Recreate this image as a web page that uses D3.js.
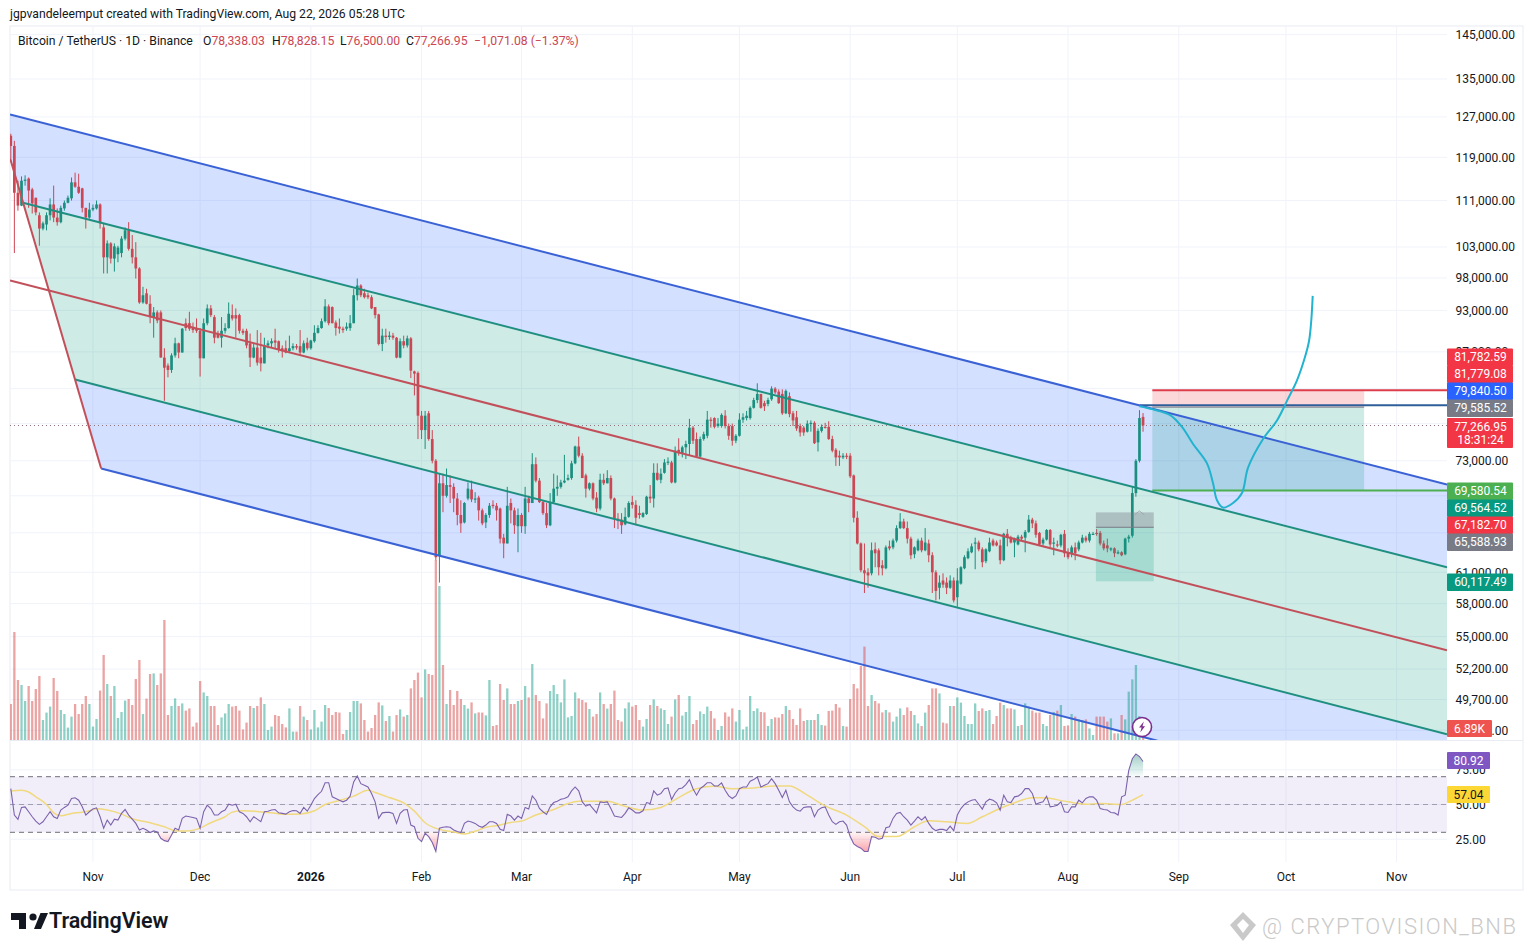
<!DOCTYPE html>
<html><head><meta charset="utf-8">
<script src="https://cdn.jsdelivr.net/npm/d3@7/dist/d3.min.js"></script>
<style>html,body{margin:0;padding:0;background:#fff;overflow:hidden}svg{display:block}text{font-family:Roboto,"Liberation Sans",sans-serif}</style>
</head><body><svg id="c" width="1534" height="951"></svg>
<script>
// Values in thousand USD, one per day starting 9 Oct 2025
const opens=[123.2,121.2,112.4,110.1,114.6,115.0,113.0,111.5,108.4,106.1,
106.8,108.4,110.3,108.0,107.2,109.6,110.6,111.4,114.3,113.5,
113.2,109.7,108.0,109.4,109.6,110.3,106.3,101.3,103.6,101.1,
101.8,102.0,104.4,105.8,102.7,101.3,99.5,94.2,95.6,94.0,
92.0,92.7,92.7,86.2,85.1,84.5,86.5,88.2,86.9,91.1,
91.1,90.4,90.4,90.0,86.1,91.1,93.3,92.0,89.6,89.0,
90.0,90.4,92.3,92.3,92.3,90.0,90.0,88.2,86.2,87.6,
86.2,85.4,87.9,88.2,88.6,88.5,87.5,87.5,87.1,87.5,
87.8,87.8,86.9,88.3,87.5,88.5,89.7,90.4,91.4,93.6,
93.5,91.2,90.6,90.3,90.3,90.4,91.1,95.3,96.8,95.6,
95.3,95.0,93.5,92.4,88.1,89.3,89.1,89.3,89.0,86.2,
88.5,87.9,88.9,84.3,84.1,78.5,76.7,78.8,75.6,73.0,
62.7,70.4,69.0,70.2,70.0,68.7,66.9,66.1,68.7,69.7,
68.6,68.8,67.4,66.1,66.9,68.0,67.9,67.6,64.5,63.9,
68.2,67.4,65.7,66.9,65.7,68.7,68.2,72.6,70.7,68.3,
67.1,65.8,68.3,69.8,70.0,70.5,70.8,71.0,72.7,74.7,
73.6,71.3,69.8,70.4,68.8,67.6,70.8,70.4,71.0,68.7,
66.5,66.4,65.9,66.7,68.3,68.0,67.1,66.7,67.0,68.9,
68.7,71.6,70.8,71.6,72.8,72.8,70.5,74.3,73.9,74.6,
75.0,77.0,75.6,73.5,75.6,76.0,78.0,78.2,77.2,77.2,
78.5,77.2,77.2,75.4,76.0,78.0,78.2,78.2,79.5,80.5,
81.3,80.1,80.0,80.6,82.0,81.6,81.3,78.8,81.0,78.8,
78.3,77.2,77.0,76.5,77.5,77.6,75.2,76.6,77.1,77.1,
75.6,74.3,73.6,73.4,73.6,73.6,71.3,66.6,63.9,61.2,
61.0,60.9,63.3,63.2,61.7,61.4,63.6,63.5,64.2,65.5,
66.2,65.5,64.4,62.8,63.2,64.2,63.2,63.9,62.7,61.0,
59.5,60.2,60.0,59.5,60.2,58.6,59.9,61.4,62.4,63.0,
63.9,64.0,63.3,62.1,63.1,64.2,64.0,63.7,62.2,64.9,
64.5,64.0,63.8,64.6,64.5,65.1,66.4,66.0,65.0,63.9,
64.3,65.3,63.9,63.8,63.7,64.9,63.0,62.9,63.5,63.3,
64.0,64.5,64.2,64.9,65.0,65.0,63.9,63.7,63.4,63.4,
63.0,63.0,62.8,64.4,64.7,69.3,73.0,78.34];
const closes=[121.2,112.4,110.1,114.6,114.8,112.8,110.5,108.9,106.1,107.0,
108.4,110.3,108.0,107.2,109.7,110.6,111.5,114.3,113.5,112.4,
109.7,108.0,109.4,109.7,110.3,107.0,101.3,103.6,101.1,103.1,
102.9,104.4,105.8,102.7,101.3,99.5,94.2,95.3,94.0,92.0,
92.7,91.5,86.2,84.8,84.5,86.5,88.2,86.9,90.3,90.4,
90.3,90.1,90.0,86.1,91.1,93.3,92.3,89.0,89.0,90.0,
90.4,92.5,91.8,91.8,90.0,89.7,87.9,86.2,87.6,85.5,
85.4,87.9,88.2,88.5,88.3,87.3,87.1,86.9,87.5,87.8,
87.6,86.9,88.2,87.5,88.6,89.7,90.4,91.4,93.6,91.1,
91.1,90.4,90.3,90.1,90.6,91.1,95.3,96.8,95.3,95.0,
95.0,93.3,92.3,88.1,89.3,89.1,89.3,89.0,86.2,88.5,
87.9,88.9,84.4,84.0,78.5,76.7,78.5,75.6,73.0,62.5,
70.4,69.0,70.2,70.0,68.7,66.9,66.0,68.2,69.8,68.6,
68.7,67.4,66.0,66.9,67.9,67.9,67.4,64.4,63.9,67.9,
67.4,65.8,66.9,65.7,68.7,68.2,72.6,70.7,68.3,67.1,
65.8,68.3,69.8,70.0,70.5,70.7,71.0,72.7,74.7,73.6,
71.0,69.8,70.4,68.7,67.6,70.8,70.4,71.0,68.7,66.5,
66.3,65.8,66.7,68.2,68.0,66.6,66.9,67.1,68.9,68.7,
71.6,70.8,71.5,72.8,72.9,70.5,74.2,73.9,74.6,75.0,
77.0,75.4,73.5,75.6,76.2,78.0,77.9,77.1,77.5,78.6,
77.2,76.0,75.4,76.0,78.0,78.3,78.5,79.5,80.5,81.3,
79.5,79.7,80.5,82.0,81.5,80.1,78.8,81.7,78.7,77.9,
76.9,76.4,76.4,77.5,77.6,75.1,76.6,77.1,77.0,75.6,
74.2,73.4,73.4,73.6,73.5,71.2,66.6,63.9,61.2,60.9,
60.7,63.2,62.9,61.5,61.4,63.5,63.4,64.2,65.5,66.2,
65.5,64.4,62.7,63.5,64.2,63.2,64.0,62.7,61.0,59.2,
60.0,59.8,59.5,60.2,58.3,60.2,61.5,62.5,63.1,63.6,
64.0,63.3,62.0,63.3,64.0,63.7,63.7,62.2,64.9,64.5,
64.0,64.4,64.6,64.4,65.1,66.4,66.0,64.8,63.8,64.3,
65.3,63.8,64.0,63.7,64.8,62.9,62.5,63.5,62.9,64.0,
64.5,64.2,64.9,64.9,64.9,63.9,63.4,63.4,63.4,62.9,
63.0,62.7,64.4,64.6,69.3,73.0,78.2,77.27];
const highs=[123.6,122.2,114.6,115.4,115.6,115.2,113.3,111.5,108.9,107.3,
108.9,111.4,113.7,109.6,110.1,111.0,111.9,115.2,116.1,115.9,
113.3,109.7,110.6,110.3,111.0,110.5,107.0,104.1,103.8,103.6,
103.2,104.8,106.3,107.2,105.0,103.8,99.7,96.6,96.3,95.3,
93.5,93.0,93.0,87.5,85.4,86.8,89.0,88.3,90.4,91.8,
92.8,91.2,91.8,90.4,91.8,93.9,93.8,92.3,90.0,92.0,
91.1,94.2,93.9,93.3,92.5,90.3,90.3,89.6,88.2,90.1,
89.7,89.0,88.6,88.9,90.3,88.6,87.9,88.6,89.3,88.2,
88.1,90.1,88.6,89.0,88.7,90.8,90.8,91.8,94.7,93.9,
93.6,91.5,91.8,90.6,91.2,92.3,96.3,97.9,97.0,96.3,
95.7,95.3,93.5,92.5,90.3,90.3,89.9,89.7,89.1,88.9,
89.3,89.3,89.1,84.4,84.3,79.1,79.1,79.1,76.7,73.2,
71.5,71.5,72.1,71.3,70.4,69.3,68.5,68.3,70.5,70.7,
69.4,69.0,67.6,67.1,68.2,68.5,68.2,67.7,64.9,70.0,
68.7,67.7,67.6,67.1,70.0,69.0,73.9,73.4,71.0,68.5,
68.2,69.3,71.5,71.3,70.8,73.7,71.4,73.0,74.8,75.9,
73.9,71.5,70.5,70.5,69.4,71.5,71.5,71.9,71.3,68.8,
67.1,67.1,67.7,68.4,69.0,68.5,67.9,67.2,69.0,70.2,
72.7,72.7,72.1,73.2,73.4,73.0,74.7,75.7,74.8,75.4,
78.1,77.2,76.4,75.9,76.5,79.1,78.3,78.3,78.2,78.8,
79.2,77.5,77.5,76.2,78.8,78.8,79.1,79.7,80.8,82.7,
81.3,80.4,80.8,82.3,82.2,81.9,81.9,81.9,81.5,79.1,
79.1,77.5,77.2,77.9,77.9,77.8,76.9,77.4,77.6,77.8,
76.0,74.5,74.2,73.9,73.9,73.9,71.4,67.3,64.0,63.9,
61.4,64.0,64.0,63.4,62.2,63.7,64.2,64.4,65.8,67.1,
66.5,66.2,64.6,63.6,64.4,64.5,65.5,64.3,63.0,61.2,
60.7,60.9,60.5,60.7,60.5,61.4,61.6,62.7,63.4,63.9,
64.5,64.2,63.5,63.4,64.5,64.4,64.2,64.3,65.0,65.4,
64.7,64.5,64.8,64.8,65.3,66.9,66.6,66.3,65.1,64.5,
65.4,65.4,64.5,64.2,64.9,65.3,63.4,63.7,64.0,64.2,
64.8,64.7,65.1,65.1,65.4,65.2,64.2,64.4,63.5,63.5,
63.2,63.1,64.5,64.8,70.0,73.2,79.2,78.83];
const lows=[118.8,102.0,109.2,110.0,113.7,109.7,108.7,108.4,103.2,105.8,
105.8,107.5,107.2,106.6,107.0,109.2,110.5,111.0,113.3,112.2,
108.9,106.1,107.8,109.1,109.4,106.1,98.7,98.7,100.3,99.0,
100.5,101.3,104.1,102.4,100.3,97.9,94.0,94.0,93.9,91.1,
89.0,91.1,86.2,80.4,83.5,84.1,86.2,86.1,86.9,90.0,
90.0,89.7,89.7,83.6,86.1,90.8,92.0,88.2,88.9,87.6,
89.6,90.3,91.5,89.0,89.6,89.4,87.5,84.9,86.1,85.1,
84.3,85.4,87.5,87.6,87.5,86.9,86.2,86.8,86.8,87.2,
87.3,86.5,86.8,87.2,87.3,88.3,89.6,90.3,91.2,90.8,
91.1,89.3,89.6,89.7,90.0,90.0,91.1,94.5,95.0,94.8,
94.7,93.2,91.8,87.9,87.1,88.3,88.7,88.7,86.1,86.1,
87.5,87.6,83.4,81.1,75.6,75.6,74.4,75.4,72.7,62.2,
60.0,67.2,68.8,68.2,67.2,65.8,65.0,66.0,68.5,68.3,
68.2,66.3,65.8,65.5,66.6,67.6,66.3,63.9,62.4,63.9,
66.0,64.9,63.0,65.0,64.9,67.2,68.2,70.5,68.2,66.9,
65.5,65.7,68.2,69.0,69.8,70.4,70.7,70.8,72.6,73.4,
71.0,68.8,69.6,68.5,67.2,67.4,70.2,70.4,68.5,65.5,
65.4,64.9,65.8,66.6,67.6,65.8,66.5,66.6,66.9,68.2,
67.7,70.7,70.4,71.5,72.5,70.4,70.4,73.6,73.4,73.2,
73.6,75.0,73.4,73.4,75.4,75.7,77.0,76.9,77.0,77.0,
76.9,75.5,74.8,75.1,75.9,77.6,77.9,78.0,79.4,80.1,
79.4,79.1,79.7,80.4,81.3,80.0,78.6,78.7,78.3,77.2,
76.6,75.9,76.0,76.4,76.5,75.0,74.1,76.4,76.9,75.5,
74.0,72.4,72.4,73.2,73.2,71.0,66.1,63.8,61.0,59.0,
59.5,60.7,61.5,60.7,60.7,61.3,63.2,63.3,64.0,65.4,
65.4,63.9,62.3,62.4,63.1,63.0,63.1,62.0,59.0,58.3,
58.4,59.5,58.9,59.4,58.1,57.7,59.8,61.3,62.3,62.9,
61.3,63.1,61.5,61.9,63.0,63.6,63.6,61.8,62.1,63.6,
63.9,62.5,63.7,64.2,63.0,65.0,65.5,64.5,63.7,63.7,
64.2,63.5,62.7,63.5,63.5,62.5,62.3,62.5,62.2,63.1,
63.9,64.0,64.0,64.8,64.7,63.7,63.2,63.0,63.1,62.5,
62.8,62.6,62.7,64.0,64.5,68.9,72.8,76.5];
const volumes=[18,54,30,27.5,19.5,27,19.5,25.5,32,10,
13.7,16.7,31,24.5,15,13,6.2,11.7,18,13,
18,22,18,6.7,10.5,24.7,42.5,28,22,27,
11,14,19.7,20.5,17.5,30.5,40,13,20.7,33,
33.3,27.5,33.3,60,12.5,17,20.8,17,18.3,14.7,
15.8,6.7,8.7,29.5,23.8,22,17,17,7.5,11.3,
13.3,18,16.7,17,14.7,5.3,8.7,17,16,17,
21.3,18,5,6.7,12.5,12,8,6.3,15.8,4.2,
4.2,17,11.7,10,5.3,15,6.3,9.2,17.5,16,
12.5,14,13.7,3,5,14,19.5,19.5,18.3,10,
4.2,6,12.5,18.8,17.3,9.5,12,4.2,12.5,15.3,
11.7,12.5,25.8,30,33.7,21.3,35.3,33,32.5,90,
77,37.5,18,25,17.5,24.5,20.5,17.5,15.7,18.8,
13.3,13.8,13.7,12.3,30,7,7.5,28,20,25.8,
18,18,19.5,20,27,21.3,38,22.5,19.5,10.8,
18.3,24.5,27.5,23,18.8,30.3,11.3,12,23.8,20.8,
20,18.8,15.5,11.7,13,23.8,18,15.7,18,24.7,
10,9.2,15.8,18.8,16.7,17.5,10,6.7,10.5,17.5,
20.3,17,15.8,15,8,11.7,20.3,22.5,12.2,14,
22,8,10,14.3,13,16.7,14.5,10.8,5,7,
13.8,11.7,15.8,9.2,15,5.3,6.7,22,14.5,15.8,
14,13.8,7,10.5,11.3,11.2,13,17,15,10.5,
7.5,15.8,9.5,10,10,10,13,7.5,7.2,14.5,
14.7,18,16.2,7,6.7,20.5,28,25.8,37,46.7,
17,22.5,19.5,18.3,13.8,15,13.8,9.2,11.7,15.8,
12.5,16.3,14.5,12.5,8.3,7,13.7,17.5,25.8,25.8,
23.3,8.7,8.3,17,17,21.3,18.7,12,8,8,
18.3,14.5,15.8,14.5,15,8,12,18.7,17.5,15.8,
15.8,15.3,7,7.5,18.3,16.7,14.7,13.7,13.7,8,
7,12.5,14,14.7,17.5,7,7.3,13,11.7,10.3,
10,10.3,5.8,2.5,11.7,11.7,11.7,9.2,10.8,3.3,
3.3,12.5,10.3,24.2,30.3,37.5,12,6.89];
const rsi=[61.4,42.4,39.3,47.9,48.3,44.8,41.2,38.1,35.7,37.6,
41.2,44.8,41.2,40,46,47.9,49.5,54.3,54.8,53.1,
48.3,42.4,44.8,46.7,47.6,41.2,32.9,38.8,35.2,39.5,
38.8,43.6,46.4,42.4,39.5,36.4,31.7,32.9,31.7,29.8,
31,30.2,25.7,24,23.3,28.1,32.9,31.7,40,41.7,
41.2,40.7,40,32.9,44.8,49.5,47.1,42.4,42.4,44.8,
46,50.2,49.5,50.2,44.8,43.6,41.2,37.6,41.2,39.5,
37.6,44.8,45.2,46,46.4,44,43.6,43.1,44.8,45.7,
45.5,43.6,47.9,45.2,49.5,54.3,57.1,59.5,65.7,65.7,
55.5,54.3,53.1,51.9,53.1,56,66.2,70.5,65,63.8,
62.6,57.9,51.9,40,44,44.3,44.3,43.6,36.4,43.6,
46,46.4,35.2,34,25.7,23.3,29.3,26.9,22.6,16.2,
32.9,33.6,34,33.6,31.7,30.5,29.8,36.4,38.1,37.4,
36.4,34.5,33.6,35.2,37.6,37.6,36.4,32.1,31.2,42.9,
41.7,38.8,41.7,40,47.9,46.7,56.2,53.1,47.1,44.8,
42.9,48.3,51.4,52.4,53.8,54.3,55.5,59.8,62.6,59.8,
51.9,48.8,50,47.1,44,51.9,51.4,51.9,47.1,41.7,
41.2,40.7,43.6,47.6,46,44,44,45.5,51.4,50.7,
59.8,56.7,57.9,61.4,61.9,53.6,58.3,61.4,61.9,64.3,
67.9,61.4,56.7,61.4,63.3,65.7,65.7,63.3,63.3,65.5,
60.2,56.2,54.3,56.2,61.4,62.6,62.6,66.7,67.9,69.8,
62.6,63.8,65,68.6,65,60.2,55,60.2,51.9,48.3,
46,45.2,47.9,48.3,48.3,41.2,46,47.6,48.3,42.4,
37.6,35.7,37.6,38.1,35.2,26.9,21.7,19.8,18.6,16.2,
16.2,26.9,26.4,25,25.7,33.3,34,40,43.6,44.3,
41.2,38.8,35.2,38.1,41.2,38.8,41.2,36.4,32.9,31.2,
32.1,32.1,31.2,34.5,31.2,42.4,47.1,50,51.9,53.1,
53.6,50.2,46.7,51.9,53.8,53.1,51.2,46,56.7,51.9,
51.4,55.5,56,57.9,61.4,61.4,57.9,50.2,51.2,51.9,
56,48.3,48.8,49.5,51.9,44.8,44.3,48.3,48.3,53.1,
51.2,54.3,55.5,55.5,53.1,47.1,46.4,46,44.3,44,
42.4,55.5,56.7,74.5,82.9,86.4,84.5,80.92];
// RSI moving average, read at the vertices visible in the picture
const rsiMaDays=[0,3,5,7,10,12,14,17,20,22,24,27,31,34,39,43,46,49,52,56,60,62,65,69,73,77,81,85,88,92,96,100,102,106,110,113,116,120,124,127,130,133,137,140,143,147,152,156,159,167,171,177,182,187,192,197,202,208,214,218,223,228,234,239,243,248,253,257,262,268,272,277,281,286,289,296,301,305,311,313,317];
const rsiMaVals=[59.8,60.2,59,55.5,50,44,41.9,43.6,44.5,45.5,46.9,46,43.1,39.8,36.9,34,31.2,31,32.1,36.9,41.2,44.5,45.5,45,44,42.9,43.1,45.5,50,52.9,56,60.2,58.6,55,51.2,45.2,36.9,32.1,30.2,28.8,30.7,33.6,35.2,37.1,38.1,42.4,46.4,50.7,52.4,52.4,49.5,46,47.9,55,61.4,63.1,61.4,61.9,63.3,63.3,56.7,49,42.4,34,26.9,26.9,34,38.3,37.6,36.4,41.2,47.1,51.2,54.8,54.8,51.9,50.2,50.7,50,51.9,57.04];
// Price axis ticks (hiddenTicks sit behind tags, only their grid lines show)
const priceTicks=[145000,135000,127000,119000,111000,103000,98000,93000,87000,82000,77500,73000,69000,65000,61000,58000,55000,52200,49700,47300];
const hiddenTicks=[82000,77500,69000,65000];
const rsiTicks=[75,50,25];
const monthDays=[23,53,84,115,143,174,204,235,265,296,327,357,388];
const monthLabels=["Nov","Dec","2026","Feb","Mar","Apr","May","Jun","Jul","Aug","Sep","Oct","Nov"];
// Channel drawing anchors: [day, price in USD]
const chTop=[[-0.2,127500],[402.1,70250]];
const chUpper=[[3.4,110600],[402.1,61500]];
const chMid=[[-0.2,97600],[402.1,53800]];
const chLower=[[18,83200],[402.1,47000]];
const chBottom=[[25.3,72100],[319.7,46600],[402.1,41200]];
const chLeft=[[-0.2,118800],[25.3,72100]];
// Position tools
const longBoxDays=[319.6,378.9], longStop=81782.59, longEntryBlue=79840.50, longEntry=79585.52, longTarget=69580.54;
const shortBoxDays=[303.8,320], boxTop=67182.70, boxMid=65588.93, boxBottom=60117.49;
const lastPrice=77266.95;
const doodleDays=[316,319.8,324.5,327.9,331,334.9,336.6,337.7,339.4,342.2,344.7,346.4,350.6,354.5,357.3,360.1,362.3,363.5,364.1,364.5];
const doodlePrices=[79700,79300,78600,77100,75000,72700,70400,68500,67700,68200,69300,72200,75600,77900,80400,83100,86200,88600,91500,95200];
// Tags on the price scale
const tagTexts=["81,782.59","81,779.08","79,840.50","79,585.52","69,580.54","69,564.52","67,182.70","65,588.93","60,117.49"];
const tagColours=["#f23645","#f23645","#2962ff","#787b86","#4caf50","#089981","#f23645","#787b86","#089981"];
const tagCentres=[357,374,391,408,491,508,525,542,582];

const W=1534,H=951,L=10,R=1447,T=26,BP=740,BR=862,RA=1523;
const kUsd=v=>v*1000;
const N=closes.length, days=d3.range(N);
const x=d3.scaleLinear().domain([0,402.1]).range([10.8,R]);
const y=d3.scaleLog().domain([145000,46520]).range([34.6,BP+.6]);
const yVol=d3.scaleLinear().domain([0,60]).range([BP,620]);
const yRsi=d3.scaleLinear().domain([70,30]).range([776.7,832.3]);
const svg=d3.select("#c");
const defs=svg.append("defs");
defs.append("clipPath").attr("id","cp").append("rect").attr("x",L).attr("y",T).attr("width",R-L).attr("height",BP-T);
defs.append("clipPath").attr("id","cr").append("rect").attr("x",L).attr("y",BP).attr("width",R-L).attr("height",BR-BP);
const gU=defs.append("linearGradient").attr("id","gU").attr("x1",0).attr("x2",0).attr("y1",0).attr("y2",1);
gU.append("stop").attr("offset","0").attr("stop-color","#3f8f80").attr("stop-opacity",.45);
gU.append("stop").attr("offset","1").attr("stop-color","#089981").attr("stop-opacity",.02);
const gD=defs.append("linearGradient").attr("id","gD").attr("x1",0).attr("x2",0).attr("y1",0).attr("y2",1);
gD.append("stop").attr("offset","0").attr("stop-color","#f23645").attr("stop-opacity",.05);
gD.append("stop").attr("offset","1").attr("stop-color","#f23645").attr("stop-opacity",.45);

// frame
const frame=svg.append("g").attr("stroke","#e9ecf2").attr("fill","none");
frame.append("rect").attr("x",L).attr("y",T).attr("width",RA-L).attr("height",890-T);
frame.append("line").attr("x1",L).attr("x2",RA).attr("y1",BP+.5).attr("y2",BP+.5);

// grid
const grid=svg.append("g").attr("stroke","#f0f3fa");
grid.selectAll(".gx").data(monthDays).join("line").attr("x1",d=>x(d)).attr("x2",d=>x(d)).attr("y1",T).attr("y2",BR);
const gridP=svg.append("g").attr("clip-path","url(#cp)");
gridP.selectAll("line").data(priceTicks).join("line").attr("x1",L).attr("x2",R).attr("y1",d=>y(d)).attr("y2",d=>y(d)).attr("stroke","#f0f3fa");
svg.append("g").selectAll("line").data(rsiTicks).join("line").attr("x1",L).attr("x2",R).attr("y1",d=>yRsi(d)).attr("y2",d=>yRsi(d)).attr("stroke","#f0f3fa");

// channel fills
const pLine=d3.line().x(d=>x(d[0])).y(d=>y(d[1]));
const chan=svg.append("g").attr("clip-path","url(#cp)");
const blueFill="rgba(41,98,255,0.2)", greenFill="rgba(8,153,129,0.2)";
chan.append("path").attr("d",pLine([chTop[0],chTop[1],chUpper[1],chUpper[0],chLeft[0]])+"Z").attr("fill",blueFill);
chan.append("path").attr("d",pLine([chUpper[0],chUpper[1],chLower[1],chLower[0]])+"Z").attr("fill",greenFill);
chan.append("path").attr("d",pLine([chLower[0],chLower[1],chBottom[2],chBottom[1],chBottom[0]])+"Z").attr("fill",blueFill);

// volume
const upC="#1b8f7f",dnC="#cc4653";
const isUp=i=>closes[i]>=opens[i];
const vol=svg.append("g").attr("clip-path","url(#cp)");
vol.selectAll("rect").data(days).join("rect")
 .attr("x",i=>x(i)-1.15).attr("width",2.3).attr("y",i=>yVol(volumes[i])).attr("height",i=>BP-yVol(volumes[i]))
 .attr("fill",i=>isUp(i)?"#089981":"#d95a58").attr("fill-opacity",i=>isUp(i)?.46:.55);

// last price dotted line
svg.append("line").attr("x1",L).attr("x2",R).attr("y1",y(lastPrice)).attr("y2",y(lastPrice)).attr("stroke","#8f7480").attr("stroke-width",1).attr("stroke-dasharray","1 3");

// candles
const cand=svg.append("g").attr("clip-path","url(#cp)");
cand.selectAll(".w").data(days).join("line").attr("x1",i=>x(i)).attr("x2",i=>x(i))
 .attr("y1",i=>y(kUsd(highs[i]))).attr("y2",i=>y(kUsd(lows[i]))).attr("stroke",i=>isUp(i)?upC:dnC).attr("stroke-width",1);
cand.selectAll(".b").data(days).join("rect").attr("x",i=>x(i)-1.35).attr("width",2.7)
 .attr("y",i=>Math.min(y(kUsd(opens[i])),y(kUsd(closes[i]))))
 .attr("height",i=>Math.max(1.2,Math.abs(y(kUsd(opens[i]))-y(kUsd(closes[i])))))
 .attr("fill",i=>isUp(i)?upC:dnC);

// position boxes
const box=svg.append("g").attr("clip-path","url(#cp)");
box.append("rect").attr("x",x(shortBoxDays[0])).attr("width",x(shortBoxDays[1])-x(shortBoxDays[0])).attr("y",y(boxTop)).attr("height",y(boxMid)-y(boxTop)).attr("fill","rgba(120,123,134,0.38)");
box.append("rect").attr("x",x(shortBoxDays[0])).attr("width",x(shortBoxDays[1])-x(shortBoxDays[0])).attr("y",y(boxMid)).attr("height",y(boxBottom)-y(boxMid)).attr("fill",greenFill);
box.append("line").attr("x1",x(shortBoxDays[0])).attr("x2",x(shortBoxDays[1])).attr("y1",y(boxMid)).attr("y2",y(boxMid)).attr("stroke","#787b86");
box.append("rect").attr("x",x(longBoxDays[0])).attr("width",x(longBoxDays[1])-x(longBoxDays[0])).attr("y",y(longStop)).attr("height",y(longEntry)-y(longStop)).attr("fill","rgba(242,54,69,0.2)");
box.append("rect").attr("x",x(longBoxDays[0])).attr("width",x(longBoxDays[1])-x(longBoxDays[0])).attr("y",y(longEntry)).attr("height",y(longTarget)-y(longEntry)).attr("fill",greenFill);
box.append("line").attr("x1",x(longBoxDays[0])).attr("x2",x(longBoxDays[1])).attr("y1",y(longEntry)).attr("y2",y(longEntry)).attr("stroke","#787b86");

// channel lines
const chl=svg.append("g").attr("clip-path","url(#cp)").attr("fill","none").attr("stroke-width",2);
[[chTop,"#3a62d4"],[chBottom,"#3a62d4"],[chUpper,"#1f8f80"],[chLower,"#1f8f80"],[chMid,"#c2505a"],[chLeft,"#c2505a"]].forEach(([p,c])=>
 chl.append("path").attr("d",pLine(p)).attr("stroke",c));
// horizontal tool lines
box.append("line").attr("x1",x(longBoxDays[0])).attr("x2",R).attr("y1",y(longStop)).attr("y2",y(longStop)).attr("stroke","#dd3c4a").attr("stroke-width",2);
box.append("line").attr("x1",x(316)).attr("x2",R).attr("y1",y(longEntryBlue)).attr("y2",y(longEntryBlue)).attr("stroke","#2f5f98").attr("stroke-width",2);
box.append("line").attr("x1",x(longBoxDays[0])).attr("x2",R).attr("y1",y(longTarget)).attr("y2",y(longTarget)).attr("stroke","#4caf50").attr("stroke-width",2);
// doodle
svg.append("path").attr("clip-path","url(#cp)").attr("fill","none").attr("stroke","#22b3cf").attr("stroke-width",2)
 .attr("d",d3.line().x(d=>x(d[0])).y(d=>y(d[1])).curve(d3.curveCatmullRom)(doodleDays.map((d,i)=>[d,doodlePrices[i]])));
// chevron on box
svg.append("path").attr("d",`M${x(314.6)},${y(66900)}l5,-4l5,4`).attr("fill","none").attr("stroke","#a5a7ad").attr("stroke-width",1);

// RSI pane
const rp=svg.append("g").attr("clip-path","url(#cr)");
rp.append("rect").attr("x",L).attr("width",R-L).attr("y",yRsi(70)).attr("height",yRsi(30)-yRsi(70)).attr("fill","rgba(126,87,194,0.1)");
[70,50,30].forEach(v=>rp.append("line").attr("x1",L).attr("x2",R).attr("y1",yRsi(v)).attr("y2",yRsi(v))
 .attr("stroke",v===50?"#a09eb0":"#6f6f78").attr("stroke-dasharray","5 4").attr("stroke-width",1));
rp.append("path").attr("fill","url(#gD)").attr("d",d3.area().x(i=>x(i)).y0(yRsi(30)).y1(i=>yRsi(Math.min(rsi[i],30)))(days));
rp.append("path").attr("fill","url(#gU)").attr("d",d3.area().x(i=>x(i)).y0(yRsi(70)).y1(i=>yRsi(Math.max(rsi[i],70)))(days));
rp.append("path").attr("fill","none").attr("stroke","#f0d97e").attr("stroke-width",1.5)
 .attr("d",d3.line().x(d=>x(d)).y((d,i)=>yRsi(rsiMaVals[i])).curve(d3.curveMonotoneX)(rsiMaDays));
rp.append("path").attr("fill","none").attr("stroke","#7b62ad").attr("stroke-width",1.1)
 .attr("d",d3.line().x(i=>x(i)).y(i=>yRsi(rsi[i]))(days));

// lightning icon
const ic=svg.append("g").attr("transform",`translate(${x(317)-1},727)`);
ic.append("circle").attr("r",9.5).attr("fill","#fff").attr("stroke","#7b2d8e").attr("stroke-width",1.6);
ic.append("path").attr("d","M1.8,-5.5L-3,0.6L-0.4,0.6L-1.8,5.5L3,-0.8L0.4,-0.8Z").attr("fill","#7b2d8e");

// axes
const fmt=d3.format(",.2f");
const axP=svg.append("g").attr("transform",`translate(1455.5,0)`).call(
  d3.axisRight(y).tickValues(priceTicks.filter(v=>!hiddenTicks.includes(v))).tickFormat(fmt).tickSize(0).tickPadding(0));
axP.select(".domain").remove();
axP.selectAll("text").attr("font-size",12).attr("fill","#131722").attr("text-anchor","start");
const axR=svg.append("g").attr("transform",`translate(1455.5,0)`).call(
  d3.axisRight(yRsi).tickValues(rsiTicks).tickFormat(fmt).tickSize(0).tickPadding(0));
axR.select(".domain").remove();
axR.selectAll("text").attr("font-size",12).attr("fill","#131722");
const axT=svg.append("g").attr("transform",`translate(-0.5,870)`).call(
  d3.axisBottom(x).tickValues(monthDays).tickFormat((d,i)=>monthLabels[i]).tickSize(0).tickPadding(2));
axT.select(".domain").remove();
axT.selectAll("text").attr("font-size",12).attr("fill","#131722").attr("font-weight",(d,i)=>monthLabels[i]==="2026"?700:400);

// tags
const tags=svg.append("g");
tags.selectAll("rect").data(tagTexts).join("rect").attr("x",R).attr("width",66).attr("y",(d,i)=>tagCentres[i]-8.5).attr("height",17.5).attr("fill",(d,i)=>tagColours[i]).attr("rx",1);
tags.selectAll("text").data(tagTexts).join("text").attr("x",R+33.5).attr("y",(d,i)=>tagCentres[i]+4.3).attr("text-anchor","middle").attr("font-size",12).attr("fill","#fff").text(d=>d);
tags.append("rect").attr("x",R).attr("width",66).attr("y",418).attr("height",30).attr("fill","#f23645").attr("rx",1);
tags.append("text").attr("x",R+33.5).attr("y",430.5).attr("text-anchor","middle").attr("font-size",12).attr("fill","#fff").text(fmt(lastPrice));
tags.append("text").attr("x",R+33.5).attr("y",444).attr("text-anchor","middle").attr("font-size",12).attr("fill","#fff").text("18:31:24");
tags.append("rect").attr("x",R).attr("width",45).attr("y",720).attr("height",17).attr("fill","#ef5350").attr("rx",1);
tags.append("text").attr("x",R+22.5).attr("y",732.6).attr("text-anchor","middle").attr("font-size",12).attr("fill","#fff").text("6.89K");
tags.append("rect").attr("x",R).attr("width",43).attr("y",752).attr("height",17).attr("fill","#7e57c2").attr("rx",1);
tags.append("text").attr("x",R+21.5).attr("y",764.6).attr("text-anchor","middle").attr("font-size",12).attr("fill","#fff").text("80.92");
tags.append("rect").attr("x",R).attr("width",43).attr("y",786).attr("height",17).attr("fill","#fdd835").attr("rx",1);
tags.append("text").attr("x",R+21.5).attr("y",798.6).attr("text-anchor","middle").attr("font-size",12).attr("fill","#131722").text("57.04");

// header
svg.append("text").attr("x",10).attr("y",18).attr("font-size",12.2).attr("fill","#131722").text("jgpvandeleemput created with TradingView.com, Aug 22, 2026 05:28 UTC");
const hd=svg.append("g").attr("font-size",12.2);
hd.append("text").attr("x",18).attr("y",45).attr("fill","#131722").text("Bitcoin / TetherUS · 1D · Binance");
[["O","78,338.03",203],["H","78,828.15",272],["L","76,500.00",340],["C","77,266.95",406]].forEach(([a,b,px])=>{
 const t=hd.append("text").attr("x",px).attr("y",45).attr("fill","#131722");
 t.append("tspan").text(a); t.append("tspan").attr("fill","#cc4653").text(b);
});
hd.append("text").attr("x",474).attr("y",45).attr("fill","#cc4653").text("−1,071.08 (−1.37%)");

// footer logo
const lg=svg.append("g").attr("fill","#131722");
lg.append("path").attr("d","M11,913h15v16h-7v-9h-8zM34,929l6.5,-16h7.5l-7,16z");
lg.append("circle").attr("cx",33).attr("cy",917).attr("r",3.6);
lg.append("text").attr("x",49).attr("y",928).attr("font-family","Inter,Roboto,sans-serif").attr("font-size",21.5).attr("font-weight",600).attr("letter-spacing",-.1).text("TradingView");
// watermark
const wm=svg.append("g").attr("fill","#c9c9c9");
wm.append("path").attr("d","M1243,912l13,13l-13,16l-13,-16zM1243,919l-6,6l6,8l6,-8z").attr("fill-rule","evenodd");
wm.append("text").attr("x",1262).attr("y",934).attr("font-size",22).attr("font-weight",300).attr("letter-spacing",1.5).text("@ CRYPTOVISION_BNB");
</script></body></html>
